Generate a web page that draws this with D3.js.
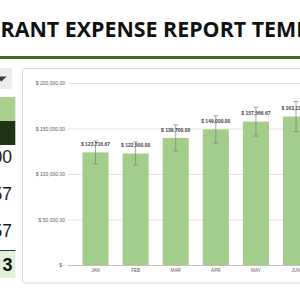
<!DOCTYPE html>
<html>
<head>
<meta charset="utf-8">
<script src="https://cdn.jsdelivr.net/npm/d3@7"></script>
<style>
    body { margin: 0; background: #fff; }
    svg { display: block; }
</style>
</head>
<body>
<svg id="report"></svg>
<script>
//Data
const months = ['JAN', 'FEB', 'MAR', 'APR', 'MAY', 'JUN'];
const expenses = [123716.67, 122500.00, 139700.00, 149000.00, 157566.67, 163133.33];
const errors = [12600, 12700, 14300, 15000, 15900, 16500];
const yTicks = [0, 50000, 100000, 150000, 200000];
const sideValues = ['00', '57', '57'];
const sideTotal = '3';
const title = 'GRANT EXPENSE REPORT TEMPLATE';

window.addEventListener('DOMContentLoaded', e => {
    let values = months.map((m, i) => ({month: m, value: expenses[i], err: errors[i]}));

    let width = 300;
    let height = 300;
    let plot = {left: 67, right: 300, top: 83, bottom: 265};

    let xScale;
    let yScale;

    let svg = d3.select('#report');

    let drawCanvas = () => {
        svg.attr('width', width);
        svg.attr('height', height);
    }

    let money = v => v === 0 ? '$ -' : '$ ' + d3.format(',.2f')(v);

    let drawHeader = () => {
        let t = svg.append('text')
            .attr('y', 37)
            .attr('font-family', '"Open Sans", sans-serif')
            .attr('font-weight', 700)
            .attr('font-size', 21.4)
            .attr('fill', '#111')
            .text(title);
        //push the G off the left edge like the cropped sheet
        let rx = t.node().getStartPositionOfChar(1).x;
        t.attr('x', -rx + 0.5);

        svg.append('rect')
            .attr('x', 0).attr('y', 56)
            .attr('width', width).attr('height', 3)
            .attr('fill', '#426b2d');
    }

    let drawSidePanel = () => {
        svg.append('rect')
            .attr('x', -6).attr('y', 68).attr('width', 18).attr('height', 21)
            .attr('rx', 3).attr('fill', '#ececec');
        svg.append('path')
            .attr('d', 'M-4,76.5 L6.6,76.5 L1.3,81.5 Z')
            .attr('fill', '#3a3a3a');

        svg.append('rect')
            .attr('x', -5).attr('y', 97).attr('width', 20.3).attr('height', 24)
            .attr('fill', '#a9d18e');
        svg.append('rect')
            .attr('x', -5).attr('y', 121).attr('width', 20.3).attr('height', 24)
            .attr('fill', '#1f3416');

        svg.selectAll('.side-value')
            .data(sideValues)
            .enter()
            .append('text')
            .attr('class', 'side-value')
            .attr('x', 12)
            .attr('y', (d, i) => 163 + i * 37)
            .attr('text-anchor', 'end')
            .attr('font-family', '"Liberation Sans", Arial, sans-serif')
            .attr('font-size', 17.5)
            .attr('fill', '#1a1a1a')
            .text(d => d);

        svg.append('line')
            .attr('x1', 0).attr('x2', 15.3)
            .attr('y1', 250.5).attr('y2', 250.5)
            .attr('stroke', '#333').attr('stroke-width', 1);
        svg.append('rect')
            .attr('x', -5).attr('y', 251).attr('width', 20.3).attr('height', 27)
            .attr('fill', '#e2efd9');
        svg.append('text')
            .attr('x', 12.5).attr('y', 271)
            .attr('text-anchor', 'end')
            .attr('font-family', '"Liberation Sans", Arial, sans-serif')
            .attr('font-weight', 700)
            .attr('font-size', 18)
            .attr('fill', '#111')
            .text(sideTotal);
    }

    let drawFrame = () => {
        svg.append('rect')
            .attr('x', 22.5).attr('y', 68.5)
            .attr('width', 300).attr('height', 214.5)
            .attr('rx', 3)
            .attr('fill', '#fff')
            .attr('stroke', '#d6d6d6');
    }

    let generateScales = () => {
        xScale = d3.scaleBand()
                    .domain(months)
                    .range([plot.left, plot.left + 40.1 * (months.length - 0.35 + 2 * 0.386)])
                    .paddingInner(0.35)
                    .paddingOuter(0.386);
        yScale = d3.scaleLinear()
                    .domain([0, d3.max(yTicks)])
                    .range([plot.bottom, plot.top]);
    }

    let generateAxes = () => {
        let yAxis = d3.axisLeft(yScale)
            .tickValues(yTicks)
            .tickSize(-(plot.right - 68))
            .tickPadding(3)
            .tickFormat(money);

        let gy = svg.append('g')
            .attr('id', 'y-axis')
            .attr('transform', 'translate(68, 0)')
            .call(yAxis);
        gy.select('.domain').remove();
        gy.selectAll('line').attr('stroke', '#e4e4e4');
        gy.selectAll('text')
            .attr('font-family', '"Liberation Sans", Arial, sans-serif')
            .attr('font-size', 5)
            .attr('fill', '#595959');

        let xAxis = d3.axisBottom(xScale)
            .tickSizeInner(0)
            .tickSizeOuter(0)
            .tickPadding(3.5);

        let gx = svg.append('g')
            .attr('id', 'x-axis')
            .attr('transform', 'translate(0, ' + plot.bottom + ')')
            .call(xAxis);
        gx.select('.domain').attr('stroke', '#bfbfbf');
        gx.selectAll('text')
            .attr('font-family', '"Liberation Sans", Arial, sans-serif')
            .attr('font-size', 4.6)
            .attr('fill', '#595959');
    }

    let drawBars = () => {
        svg.selectAll('.bar')
            .data(values)
            .enter()
            .append('rect')
            .attr('class', 'bar')
            .attr('x', d => xScale(d.month))
            .attr('y', d => yScale(d.value))
            .attr('width', xScale.bandwidth())
            .attr('height', d => yScale(0) - yScale(d.value))
            .attr('fill', '#a3cd8b');

        let cx = d => xScale(d.month) + xScale.bandwidth() / 2;
        let err = svg.selectAll('.err')
            .data(values)
            .enter()
            .append('g')
            .attr('class', 'err')
            .attr('stroke', '#808080')
            .attr('stroke-width', 0.7);
        err.append('line')
            .attr('x1', cx).attr('x2', cx)
            .attr('y1', d => yScale(d.value + d.err))
            .attr('y2', d => yScale(d.value - d.err));
        err.append('line')
            .attr('x1', d => cx(d) - 2.5).attr('x2', d => cx(d) + 2.5)
            .attr('y1', d => yScale(d.value + d.err))
            .attr('y2', d => yScale(d.value + d.err));
        err.append('line')
            .attr('x1', d => cx(d) - 2.5).attr('x2', d => cx(d) + 2.5)
            .attr('y1', d => yScale(d.value - d.err))
            .attr('y2', d => yScale(d.value - d.err));

        svg.selectAll('.label')
            .data(values)
            .enter()
            .append('text')
            .attr('class', 'label')
            .attr('x', cx)
            .attr('y', d => yScale(d.value) - 6.3)
            .attr('text-anchor', 'middle')
            .attr('font-family', '"Liberation Sans", Arial, sans-serif')
            .attr('font-weight', 700)
            .attr('font-size', 5)
            .attr('fill', '#404040')
            .text(d => money(d.value));
    }

    drawCanvas();
    drawHeader();
    drawSidePanel();
    drawFrame();
    generateScales();
    generateAxes();
    drawBars();
})
</script>
</body>
</html>
